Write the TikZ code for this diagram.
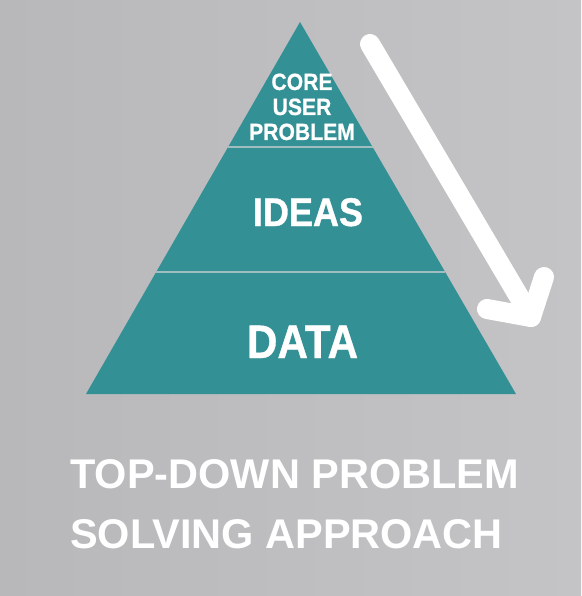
\documentclass[tikz,border=0pt]{standalone}
\usepackage{fontspec}
\setmainfont{Liberation Sans}
\newfontfamily\pyrfont[FakeStretch=0.9,FakeBold=0.8]{Liberation Sans}
\usetikzlibrary{calc}

\definecolor{bgleft}{RGB}{184,184,186}
\definecolor{bgright}{RGB}{196,196,198}
\definecolor{pyrteal}{RGB}{51,144,149}
\definecolor{divline}{RGB}{160,190,192}

\begin{document}
\begin{tikzpicture}[x=1pt,y=-1pt,
  layer label/.style={text=white,inner sep=0pt,anchor=base,font=\pyrfont\bfseries},
  title label/.style={text=white,inner sep=0pt,anchor=base west,font=\fontsize{41.5}{41.5}\selectfont\bfseries},
  white arrow/.style={white,line width=20pt,line cap=round,line join=round}]

  % background
  \shade[left color=bgleft,right color=bgright] (0,0) rectangle (581,596);
  \useasboundingbox (0,0) rectangle (581,596);

  % pyramid
  \coordinate (apex) at (300,22);
  \coordinate (bl) at (86,394);
  \coordinate (br) at (516,394);
  \fill[pyrteal] (apex) -- (br) -- (bl) -- cycle;

  % dividers
  \coordinate (d1l) at ($(apex)!0.336!(bl)$);
  \coordinate (d1r) at ($(apex)!0.336!(br)$);
  \coordinate (d2l) at ($(apex)!0.672!(bl)$);
  \coordinate (d2r) at ($(apex)!0.672!(br)$);
  \draw[divline,line width=1.5pt] (d1l) -- (d1r);
  \draw[divline,line width=1.5pt] (d2l) -- (d2r);

  % layer labels
  \node[layer label,font=\pyrfont\bfseries\fontsize{23.5}{23.5}\selectfont] (core) at (302,90) {CORE};
  \node[layer label,font=\pyrfont\bfseries\fontsize{23.5}{23.5}\selectfont] (user) at (302,115) {USER};
  \node[layer label,font=\pyrfont\bfseries\fontsize{23.5}{23.5}\selectfont] (problem) at (302,140) {PROBLEM};
  \node[layer label,font=\pyrfont\bfseries\fontsize{40}{40}\selectfont] (ideas) at (308,226) {IDEAS};
  \node[layer label,font=\pyrfont\bfseries\fontsize{47}{47}\selectfont] (data) at (302.5,358) {DATA};

  % arrow
  \coordinate (arrstart) at (370,44);
  \coordinate (arrtip) at (531,317);
  \coordinate (armleft) at (487,309);
  \coordinate (armright) at (544,277);
  \draw[white arrow] (arrstart) -- (arrtip);
  \draw[white arrow] (armleft) -- (arrtip) -- (armright);

  % title
  \node[title label] (title1) at (70,488) {TOP-DOWN PROBLEM};
  \node[title label] (title2) at ([yshift=-60pt]title1.base west) {SOLVING APPROACH};

\end{tikzpicture}
\end{document}
